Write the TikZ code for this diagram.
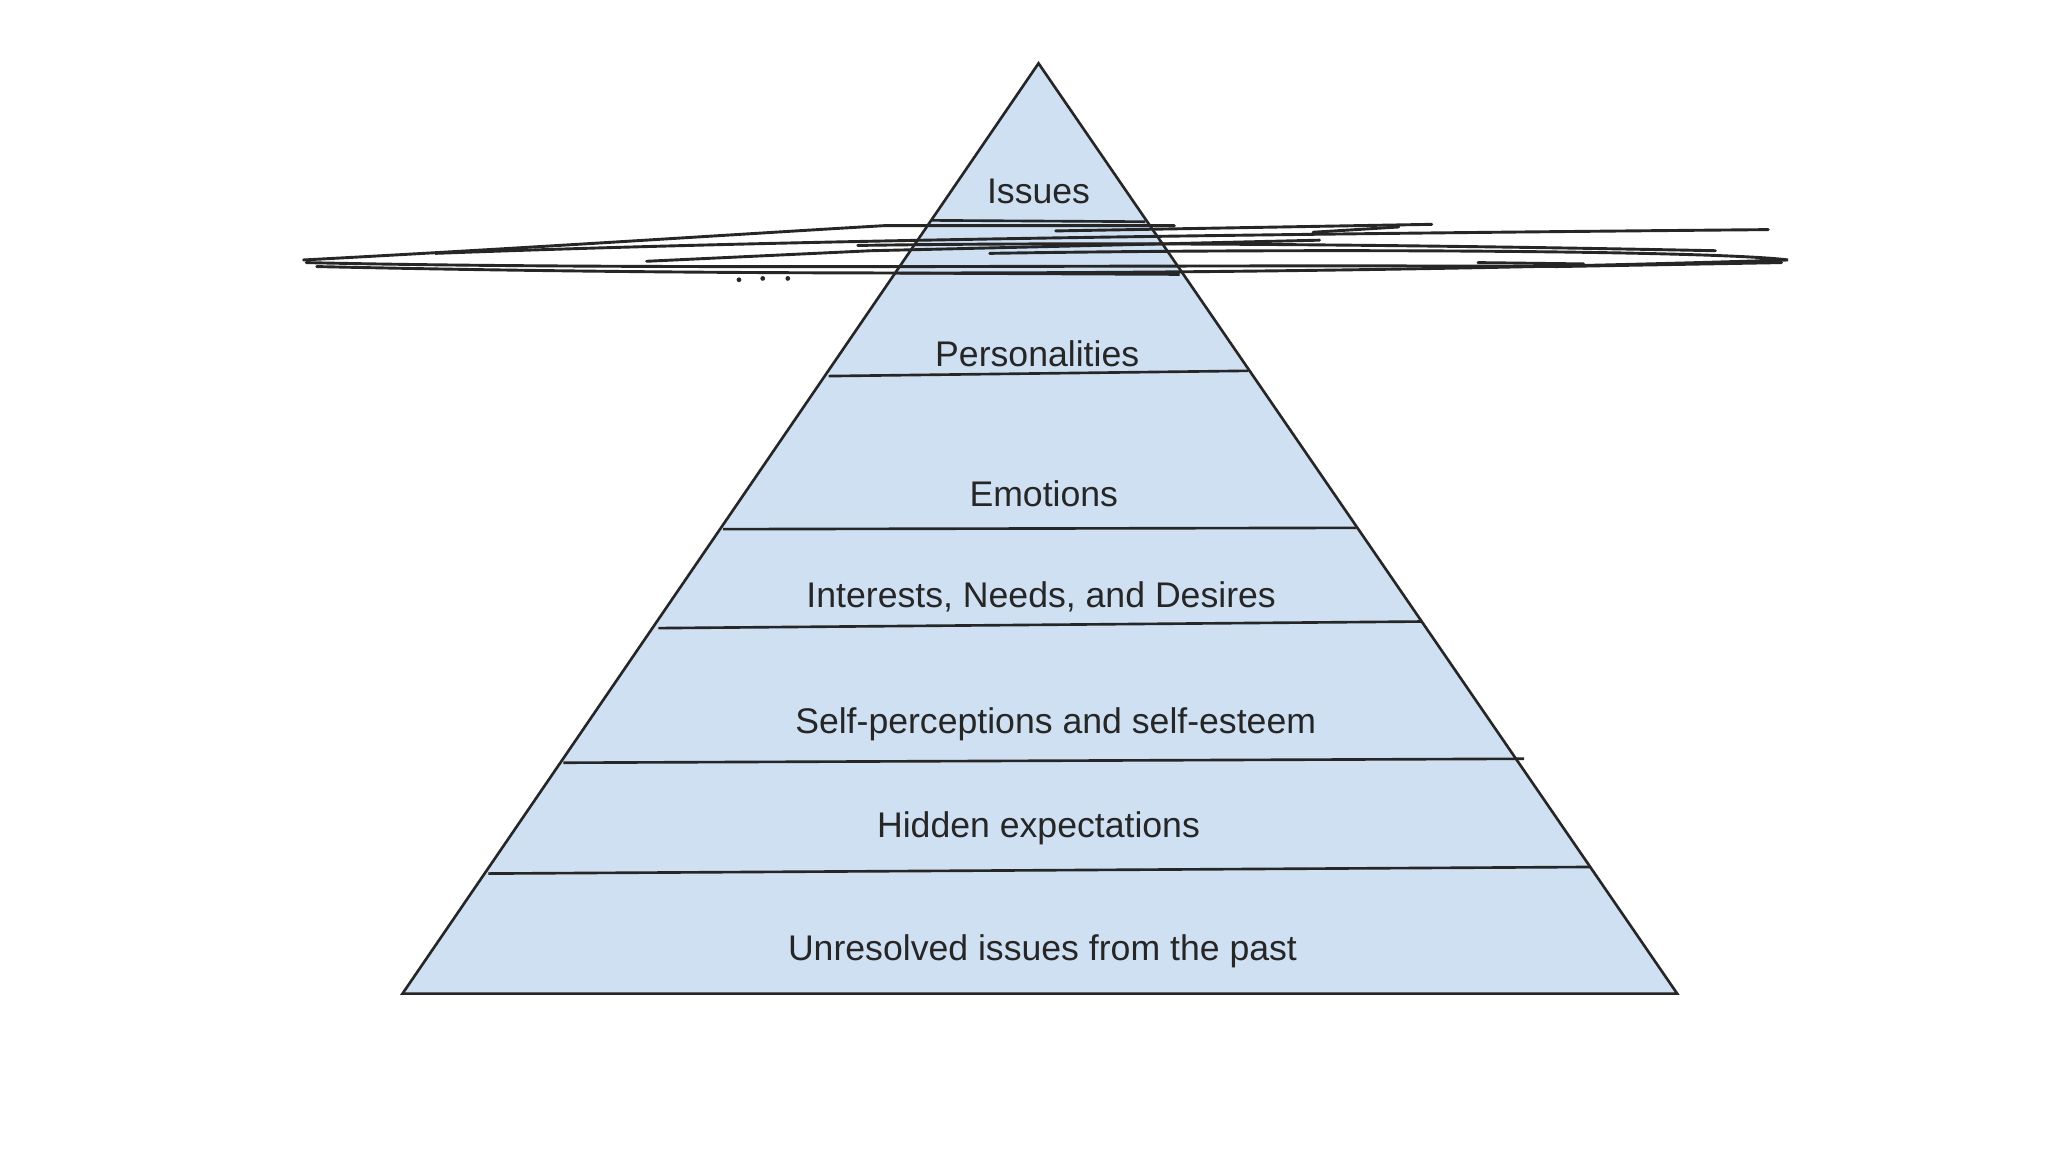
\documentclass[tikz,border=0pt]{standalone}
\usepackage{fontspec}
\setmainfont{Liberation Sans}
\definecolor{pyr}{HTML}{CFE0F3}
\begin{document}
\begin{tikzpicture}[x=1pt,y=-1pt,
  lbl/.style={font=\fontsize{27}{32}\selectfont, text=black!85, inner sep=0},
  ln/.style={line width=2pt, black!85},
  scr/.style={line width=2.2pt, black!85, line cap=round}]
\useasboundingbox[fill=white] (0,0) rectangle (1552,873);
\coordinate (A) at (787,48);
\coordinate (L) at (305,753);
\coordinate (R) at (1271,753);
\fill[pyr] (A) -- (L) -- (R) -- cycle;
% layer lines
\draw[ln] (706,167) -- (868,168);
\draw[ln] (679,207) -- (894,208);
\draw[ln] (628,285) -- (946,281);
\draw[ln] (548,401) -- (1028,400);
\draw[ln] (499,476) -- (1077,471);
\draw[ln] (427,578) -- (1155,575);
\draw[ln] (370,662) -- (1205,657);
\draw[ln, line join=miter] (A) -- (L) -- (R) -- cycle;
% scribble
\draw[scr] (230,197) .. controls (400,188) and (550,178) .. (670,171) -- (890,171);
\draw[scr] (232,199) .. controls (500,205) and (900,200) .. (1180,202) -- (1350,199);
\draw[scr] (240,202) .. controls (600,210) and (1000,208) .. (1355,197) .. controls (1300,190) and (1000,188) .. (750,192);
\draw[scr] (330,192) .. controls (600,182) and (900,178) .. (1340,174);
\draw[scr] (800,175) -- (1085,170);
\draw[scr] (490,198) -- (660,190) -- (1000,182);
\draw[scr] (650,186) .. controls (850,183) and (1100,186) .. (1300,190);
\draw[scr] (995,176) -- (1060,172);
\draw[scr] (1120,199) -- (1200,200);
\fill[black!85] (560,212) circle (1.8) (578,211) circle (1.8) (597,211) circle (1.8);
% labels
\node[lbl] (t1) at (787,145) {Issues};
\node[lbl] (t2) at (786,268) {Personalities};
\node[lbl] (t3) at (791,374) {Emotions};
\node[lbl] (t4) at (789,452) {Interests, Needs, and Desires};
\node[lbl] (t5) at (800,549) {Self-perceptions and self-esteem};
\node[lbl] (t6) at (787,628) {Hidden expectations};
\node[lbl] (t7) at (790,721) {Unresolved issues from the past};
\end{tikzpicture}
\end{document}
